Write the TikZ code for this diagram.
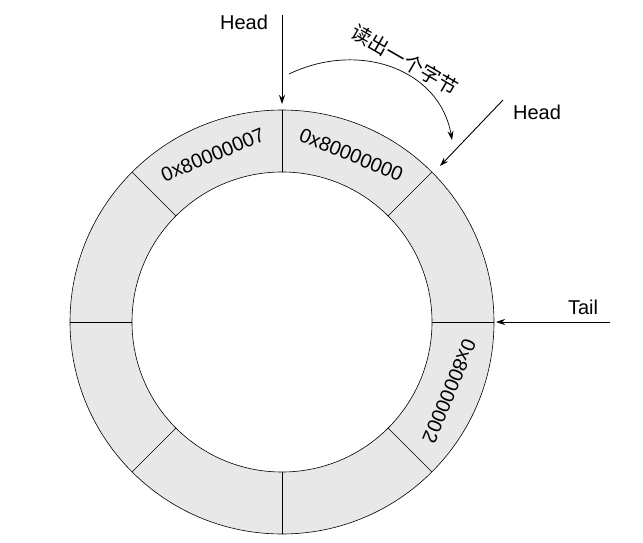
\documentclass[tikz,border=0pt]{standalone}
\usepackage{fontspec}
\setmainfont{Liberation Sans}
\newfontfamily\cjk{Noto Sans CJK SC}
\usetikzlibrary{arrows.meta,calc}
\definecolor{seg}{HTML}{E8E8E8}
\tikzset{lbl/.style={font=\fontsize{20}{22}\selectfont},
  ptr/.style={-{Stealth[length=9pt,width=6pt]},line width=0.9pt}}
\begin{document}
\begin{tikzpicture}[x=1pt,y=-1pt]
\useasboundingbox (0,0) rectangle (643,543);
\coordinate (c) at (282,322);
\fill[seg,even odd rule] (c) circle[radius=212] (c) circle[radius=150];
\draw[line width=0.6pt] (c) circle[radius=212] (c) circle[radius=150];
\foreach \a in {0,45,...,315}
  \draw[line width=0.6pt] ($(c)+(\a:150 and -150)$) -- ($(c)+(\a:212 and -212)$);
\node[lbl,rotate=22.5] (s7) at ($(c)+(112.5:181 and -181)$) {0x80000007};
\node[lbl,rotate=-22.5] (s0) at ($(c)+(67.5:181 and -181)$) {0x80000000};
\node[lbl,rotate=-112.5] (s2) at ($(c)+(-22.5:181 and -181)$) {0x80000002};
\node[lbl] (h1) at (244,22) {Head};
\coordinate (h1s) at (282,15); \coordinate (h1e) at (282,104);
\draw[ptr] (h1s) -- (h1e);
\node[lbl] (h2) at (537,112) {Head};
\coordinate (h2s) at (503,100); \coordinate (h2e) at (440,166);
\draw[ptr] (h2s) -- (h2e);
\node[lbl] (t) at (583,307) {Tail};
\coordinate (ts) at (610,322); \coordinate (te) at (496,322);
\draw[ptr] (ts) -- (te);
\coordinate (as) at (289,74); \coordinate (ae) at (452,140);
\draw[ptr,line width=0.7pt] (as) .. controls (360,40) and (440,70) .. (ae);
\node[lbl,rotate=-30] (rd) at (405,60) {\cjk 读出一个字节};
\end{tikzpicture}
\end{document}
